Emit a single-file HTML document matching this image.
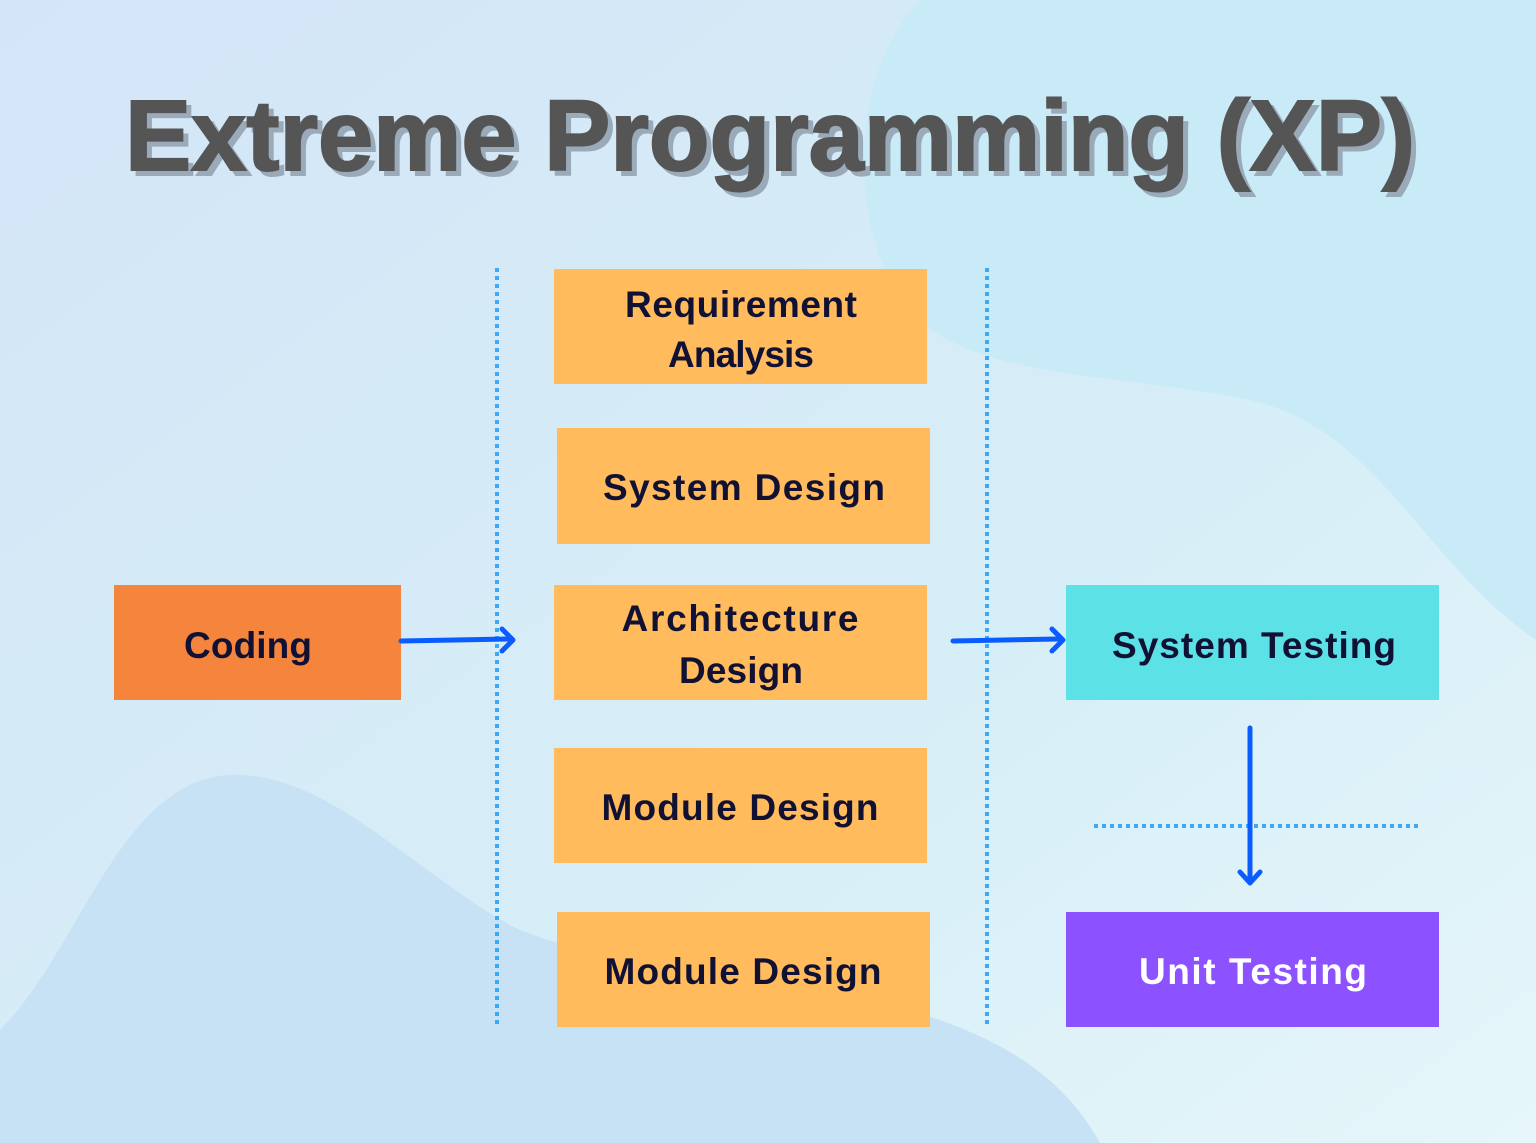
<!DOCTYPE html>
<html><head><style>
html,body{margin:0;padding:0;width:1536px;height:1143px;overflow:hidden}
svg{display:block}
</style></head><body>
<svg width="1536" height="1143" viewBox="0 0 1536 1143" xmlns="http://www.w3.org/2000/svg">
<defs>
<linearGradient id="bg" x1="0" y1="0" x2="1" y2="1">
<stop offset="0" stop-color="#d4e5f7"/><stop offset="0.6" stop-color="#d6eef7"/><stop offset="1" stop-color="#e6f6fa"/>
</linearGradient>
</defs>
<rect width="1536" height="1143" fill="url(#bg)"/>
<path d="M920 0 C860 60 840 200 900 300 C960 380 1100 370 1250 400 C1380 430 1420 560 1536 640 L1536 0 Z" fill="#c8ebf7"/>
<path d="M0 1030 C80 950 120 780 230 775 C330 770 420 880 520 930 C700 1000 1000 960 1100 1143 L0 1143 Z" fill="#c8e2f5"/>
<g font-family="Liberation Sans, sans-serif" font-weight="bold" text-anchor="middle">
<text x="775" y="175" font-size="100" fill="#9aaab8" stroke="#9aaab8" stroke-width="2" textLength="1290" lengthAdjust="spacingAndGlyphs">Extreme Programming (XP)</text>
<text x="770" y="170" font-size="100" fill="#555555" stroke="#555555" stroke-width="2" textLength="1290" lengthAdjust="spacingAndGlyphs">Extreme Programming (XP)</text>
</g>
<g stroke="#3ea8f5" stroke-width="4" stroke-dasharray="4 4" fill="none">
<line x1="497" y1="268" x2="497" y2="1025"/>
<line x1="987" y1="268" x2="987" y2="1025"/>
<line x1="1094" y1="826" x2="1420" y2="826"/>
</g>
<rect x="114" y="585" width="287" height="115" fill="#f5843c"/>
<g fill="#ffbb5c">
<rect x="554" y="269" width="373" height="115"/>
<rect x="557" y="428" width="373" height="116"/>
<rect x="554" y="585" width="373" height="115"/>
<rect x="554" y="748" width="373" height="115"/>
<rect x="557" y="912" width="373" height="115"/>
</g>
<rect x="1066" y="585" width="373" height="115" fill="#5ce1e6"/>
<rect x="1066" y="912" width="373" height="115" fill="#8c52ff"/>
<g stroke="#0a5cff" stroke-width="5" fill="none" stroke-linecap="round" stroke-linejoin="round">
<line x1="401" y1="641" x2="508" y2="639"/>
<polyline points="502,629 513,640 502,651"/>
<line x1="953" y1="641" x2="1058" y2="639"/>
<polyline points="1052,629 1063,640 1052,651"/>
<line x1="1250" y1="728" x2="1250" y2="880"/>
<polyline points="1240,872 1250,883 1260,872"/>
</g>
<g font-family="Liberation Sans, sans-serif" font-weight="bold" font-size="37" fill="#111133" text-anchor="middle" lengthAdjust="spacingAndGlyphs">
<text x="248" y="658" textLength="128">Coding</text>
<text x="741" y="317" textLength="232">Requirement</text>
<text x="741" y="367" textLength="146">Analysis</text>
<text x="744" y="500" textLength="282">System Design</text>
<text x="740" y="631" textLength="237">Architecture</text>
<text x="741" y="683" textLength="124">Design</text>
<text x="740" y="820" textLength="277">Module Design</text>
<text x="743" y="984" textLength="277">Module Design</text>
<text x="1254" y="658" textLength="284">System Testing</text>
<text x="1253" y="984" textLength="228" fill="#ffffff">Unit Testing</text>
</g>
</svg>
</body></html>
